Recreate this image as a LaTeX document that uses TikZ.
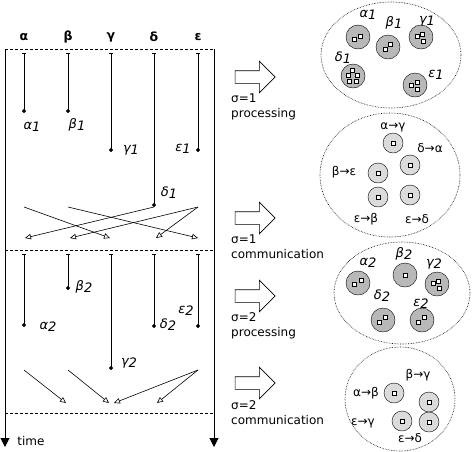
\documentclass[tikz,border=0pt]{standalone}
\usepackage{fontspec}
\setmainfont{DejaVu Sans}
\usetikzlibrary{arrows.meta,shapes.arrows,shapes.geometric}
\definecolor{cellgray}{gray}{0.72}
\definecolor{msggray}{gray}{0.86}
\newcommand{\ix}[2]{{\fontsize{13}{15}\selectfont\textit{#1\raisebox{-0.3ex}{#2}}}}

\begin{document}
\begin{tikzpicture}[x=1pt, y=-1pt,
    font=\fontsize{12}{15}\selectfont,
    head/.style={font=\fontsize{12.5}{15}\selectfont\bfseries},
    proc/.style={line width=1pt, {Bar[width=4pt,line width=1pt]}-{Circle[length=4pt]}},
    comm/.style={line width=0.6pt, -{Triangle[open,length=6pt,width=5.5pt]}},
    axis/.style={line width=1pt, -{Triangle[length=9pt,width=9pt]}},
    sep/.style={line width=0.8pt, dash pattern=on 3pt off 2pt},
    blk/.style={draw, shape=single arrow, line width=0.6pt, minimum height=40pt, inner xsep=0pt, inner ysep=6pt, single arrow head extend=9.5pt},
    phase/.style={align=left, anchor=north west, inner sep=0pt},
    clu/.style={draw, ellipse, densely dotted, line width=0.6pt, inner sep=0pt},
    grp/.style={draw, circle, fill=cellgray, minimum size=24pt, inner sep=0pt},
    msg/.style={draw, circle, fill=msggray, minimum size=20pt, inner sep=0pt},
    sq/.style={draw, fill=white, line width=0.5pt, minimum size=4.5pt, inner sep=0pt}
]
    \useasboundingbox (0,0) rectangle (474,451);

    \foreach \n/\x/\g in {a/24/α, b/68/β, c/111/γ, d/154/δ, e/198/ε} {
        \node[head] (h\n) at (\x,37) {\g};
        \coordinate (p\n) at (\x,53);
        \coordinate (q\n) at (\x,254);
    }

    \coordinate (tl) at (5,49);
    \coordinate (tr) at (214,49);
    \coordinate (bl) at (5,447);
    \coordinate (br) at (214,447);
    \coordinate (ml) at (5,250);
    \coordinate (mr) at (214,250);
    \coordinate (nl) at (5,413);
    \coordinate (nr) at (214,413);
    \draw[sep] (tl) -- (tr);
    \draw[sep] (ml) -- (mr);
    \draw[sep] (nl) -- (nr);
    \draw[axis] (tl) -- (bl);
    \draw[axis] (tr) -- (br);
    \node (time) at (31,441) {time};

    \coordinate (a1) at (24,113);
    \coordinate (b1) at (68,113);
    \coordinate (c1) at (111,152);
    \coordinate (d1) at (154,207);
    \coordinate (e1) at (198,152);
    \draw[proc] (pa) -- (a1);
    \draw[proc] (pb) -- (b1);
    \draw[proc] (pc) -- (c1);
    \draw[proc] (pd) -- (d1);
    \draw[proc] (pe) -- (e1);
    \node (la1) at (32,127) {\ix{α}{1}};
    \node (lb1) at (77,125) {\ix{β}{1}};
    \node (lc1) at (131,150) {\ix{γ}{1}};
    \node (ld1) at (169,193) {\ix{δ}{1}};
    \node (le1) at (183,149) {\ix{ε}{1}};

    \coordinate (ca) at (24,207);
    \coordinate (cb) at (68,207);
    \coordinate (ce) at (198,207);
    \coordinate (ta) at (25,238);
    \coordinate (tb) at (70,238);
    \coordinate (tc) at (110,238);
    \coordinate (td) at (156,238);
    \coordinate (te) at (198,238);
    \draw[comm] (ca) -- (tc);
    \draw[comm] (cb) -- (te);
    \draw[comm] (d1) -- (ta);
    \draw[comm] (ce) -- (tb);
    \draw[comm] (ce) -- (td);

    \coordinate (a2) at (24,327);
    \coordinate (b2) at (68,290);
    \coordinate (c2) at (111,370);
    \coordinate (d2) at (154,328);
    \coordinate (e2) at (198,328);
    \draw[proc] (qa) -- (a2);
    \draw[proc] (qb) -- (b2);
    \draw[proc] (qc) -- (c2);
    \draw[proc] (qd) -- (d2);
    \draw[proc] (qe) -- (e2);
    \node (la2) at (48,327) {\ix{α}{2}};
    \node (lb2) at (84,287) {\ix{β}{2}};
    \node (lc2) at (129,363) {\ix{γ}{2}};
    \node (ld2) at (168,325) {\ix{δ}{2}};
    \node (le2) at (186,311) {\ix{ε}{2}};

    \coordinate (ra) at (24,370);
    \coordinate (rb) at (68,370);
    \coordinate (re) at (198,370);
    \coordinate (ub) at (66,403);
    \coordinate (uc) at (109,403);
    \coordinate (uc2) at (114,403);
    \coordinate (ud) at (157,403);
    \draw[comm] (ra) -- (ub);
    \draw[comm] (rb) -- (uc);
    \draw[comm] (re) -- (uc2);
    \draw[comm] (re) -- (ud);

    \node[blk] (s1) at (252,77) {};
    \node[blk] (s2) at (252,218) {};
    \node[blk] (s3) at (252,296) {};
    \node[blk] (s4) at (252,383) {};
    \node[phase] (t1) at (231,94) {σ=1\\processing};
    \node[phase] (t2) at (231,235) {σ=1\\communication};
    \node[phase] (t3) at (231,312) {σ=2\\processing};
    \node[phase] (t4) at (231,400) {σ=2\\communication};

    \node[clu, minimum width=140pt, minimum height=106pt] (k1) at (391,55) {};
    \node[clu, minimum width=140pt, minimum height=124pt] (k2) at (390,175) {};
    \node[clu, minimum width=136pt, minimum height=102pt] (k3) at (402,293) {};
    \node[clu, minimum width=110pt, minimum height=104pt] (k4) at (400,399) {};

    \node[grp] (g1a) at (358,37) {};
    \node[grp] (g1b) at (388,47) {};
    \node[grp] (g1c) at (421,37) {};
    \node[grp] (g1d) at (353,76) {};
    \node[grp] (g1e) at (415,85) {};
    \foreach \dx/\dy [count=\k] in {-4/2, 2/-1} \node[sq] (g1a\k) at ([shift={(\dx,\dy)}]g1a) {};
    \foreach \dx/\dy [count=\k] in {-3/2, 2/-3} \node[sq] (g1b\k) at ([shift={(\dx,\dy)}]g1b) {};
    \foreach \dx/\dy [count=\k] in {-4/-1, 1/-3, 2/4} \node[sq] (g1c\k) at ([shift={(\dx,\dy)}]g1c) {};
    \foreach \dx/\dy [count=\k] in {-1/-6, -5/-1, 4/-1, -4/5, 3/5} \node[sq] (g1d\k) at ([shift={(\dx,\dy)}]g1d) {};
    \foreach \dx/\dy [count=\k] in {-4/0, 2/-3, 2/4} \node[sq] (g1e\k) at ([shift={(\dx,\dy)}]g1e) {};
    \node (n1a) at (368,15) {\ix{α}{1}};
    \node (n1b) at (394,23) {\ix{β}{1}};
    \node (n1c) at (427,21) {\ix{γ}{1}};
    \node (n1d) at (343,58) {\ix{δ}{1}};
    \node (n1e) at (436,75) {\ix{ε}{1}};

    \node[msg] (m1a) at (393,143) {};
    \node[msg] (m1b) at (410,165) {};
    \node[msg] (m1c) at (378,173) {};
    \node[msg] (m1d) at (378,197) {};
    \node[msg] (m1e) at (410,195) {};
    \foreach \m in {m1a, m1b, m1c, m1d, m1e} \node[sq] (\m s) at (\m) {};
    \node (w1a) at (393,127) {α→γ};
    \node (w1b) at (430,148) {δ→α};
    \node (w1c) at (344,172) {β→ε};
    \node (w1d) at (366,219) {ε→β};
    \node (w1e) at (417,219) {ε→δ};

    \node[grp] (g2a) at (358,283) {};
    \node[grp] (g2b) at (405,275) {};
    \node[grp] (g2c) at (437,284) {};
    \node[grp] (g2d) at (383,320) {};
    \node[grp] (g2e) at (422,320) {};
    \foreach \dx/\dy [count=\k] in {-4/1, 3/-3} \node[sq] (g2a\k) at ([shift={(\dx,\dy)}]g2a) {};
    \node[sq] (g2b1) at (g2b) {};
    \foreach \dx/\dy [count=\k] in {-4/-1, 1/-3, 2/4} \node[sq] (g2c\k) at ([shift={(\dx,\dy)}]g2c) {};
    \foreach \dx/\dy [count=\k] in {-4/2, 2/-3} \node[sq] (g2d\k) at ([shift={(\dx,\dy)}]g2d) {};
    \foreach \dx/\dy [count=\k] in {-4/2, 2/-3} \node[sq] (g2e\k) at ([shift={(\dx,\dy)}]g2e) {};
    \node (n2a) at (368,263) {\ix{α}{2}};
    \node (n2b) at (404,254) {\ix{β}{2}};
    \node (n2c) at (434,264) {\ix{γ}{2}};
    \node (n2d) at (382,296) {\ix{δ}{2}};
    \node (n2e) at (421,304) {\ix{ε}{2}};

    \node[msg] (m2a) at (394,393) {};
    \node[msg] (m2b) at (429,402) {};
    \node[msg] (m2c) at (402,421) {};
    \node[msg] (m2d) at (429,422) {};
    \foreach \m in {m2a, m2b, m2c, m2d} \node[sq] (\m s) at (\m) {};
    \node (w2a) at (366,393) {α→β};
    \node (w2b) at (418,375) {β→γ};
    \node (w2c) at (363,423) {ε→γ};
    \node (w2d) at (410,438) {ε→δ};
\end{tikzpicture}
\end{document}
